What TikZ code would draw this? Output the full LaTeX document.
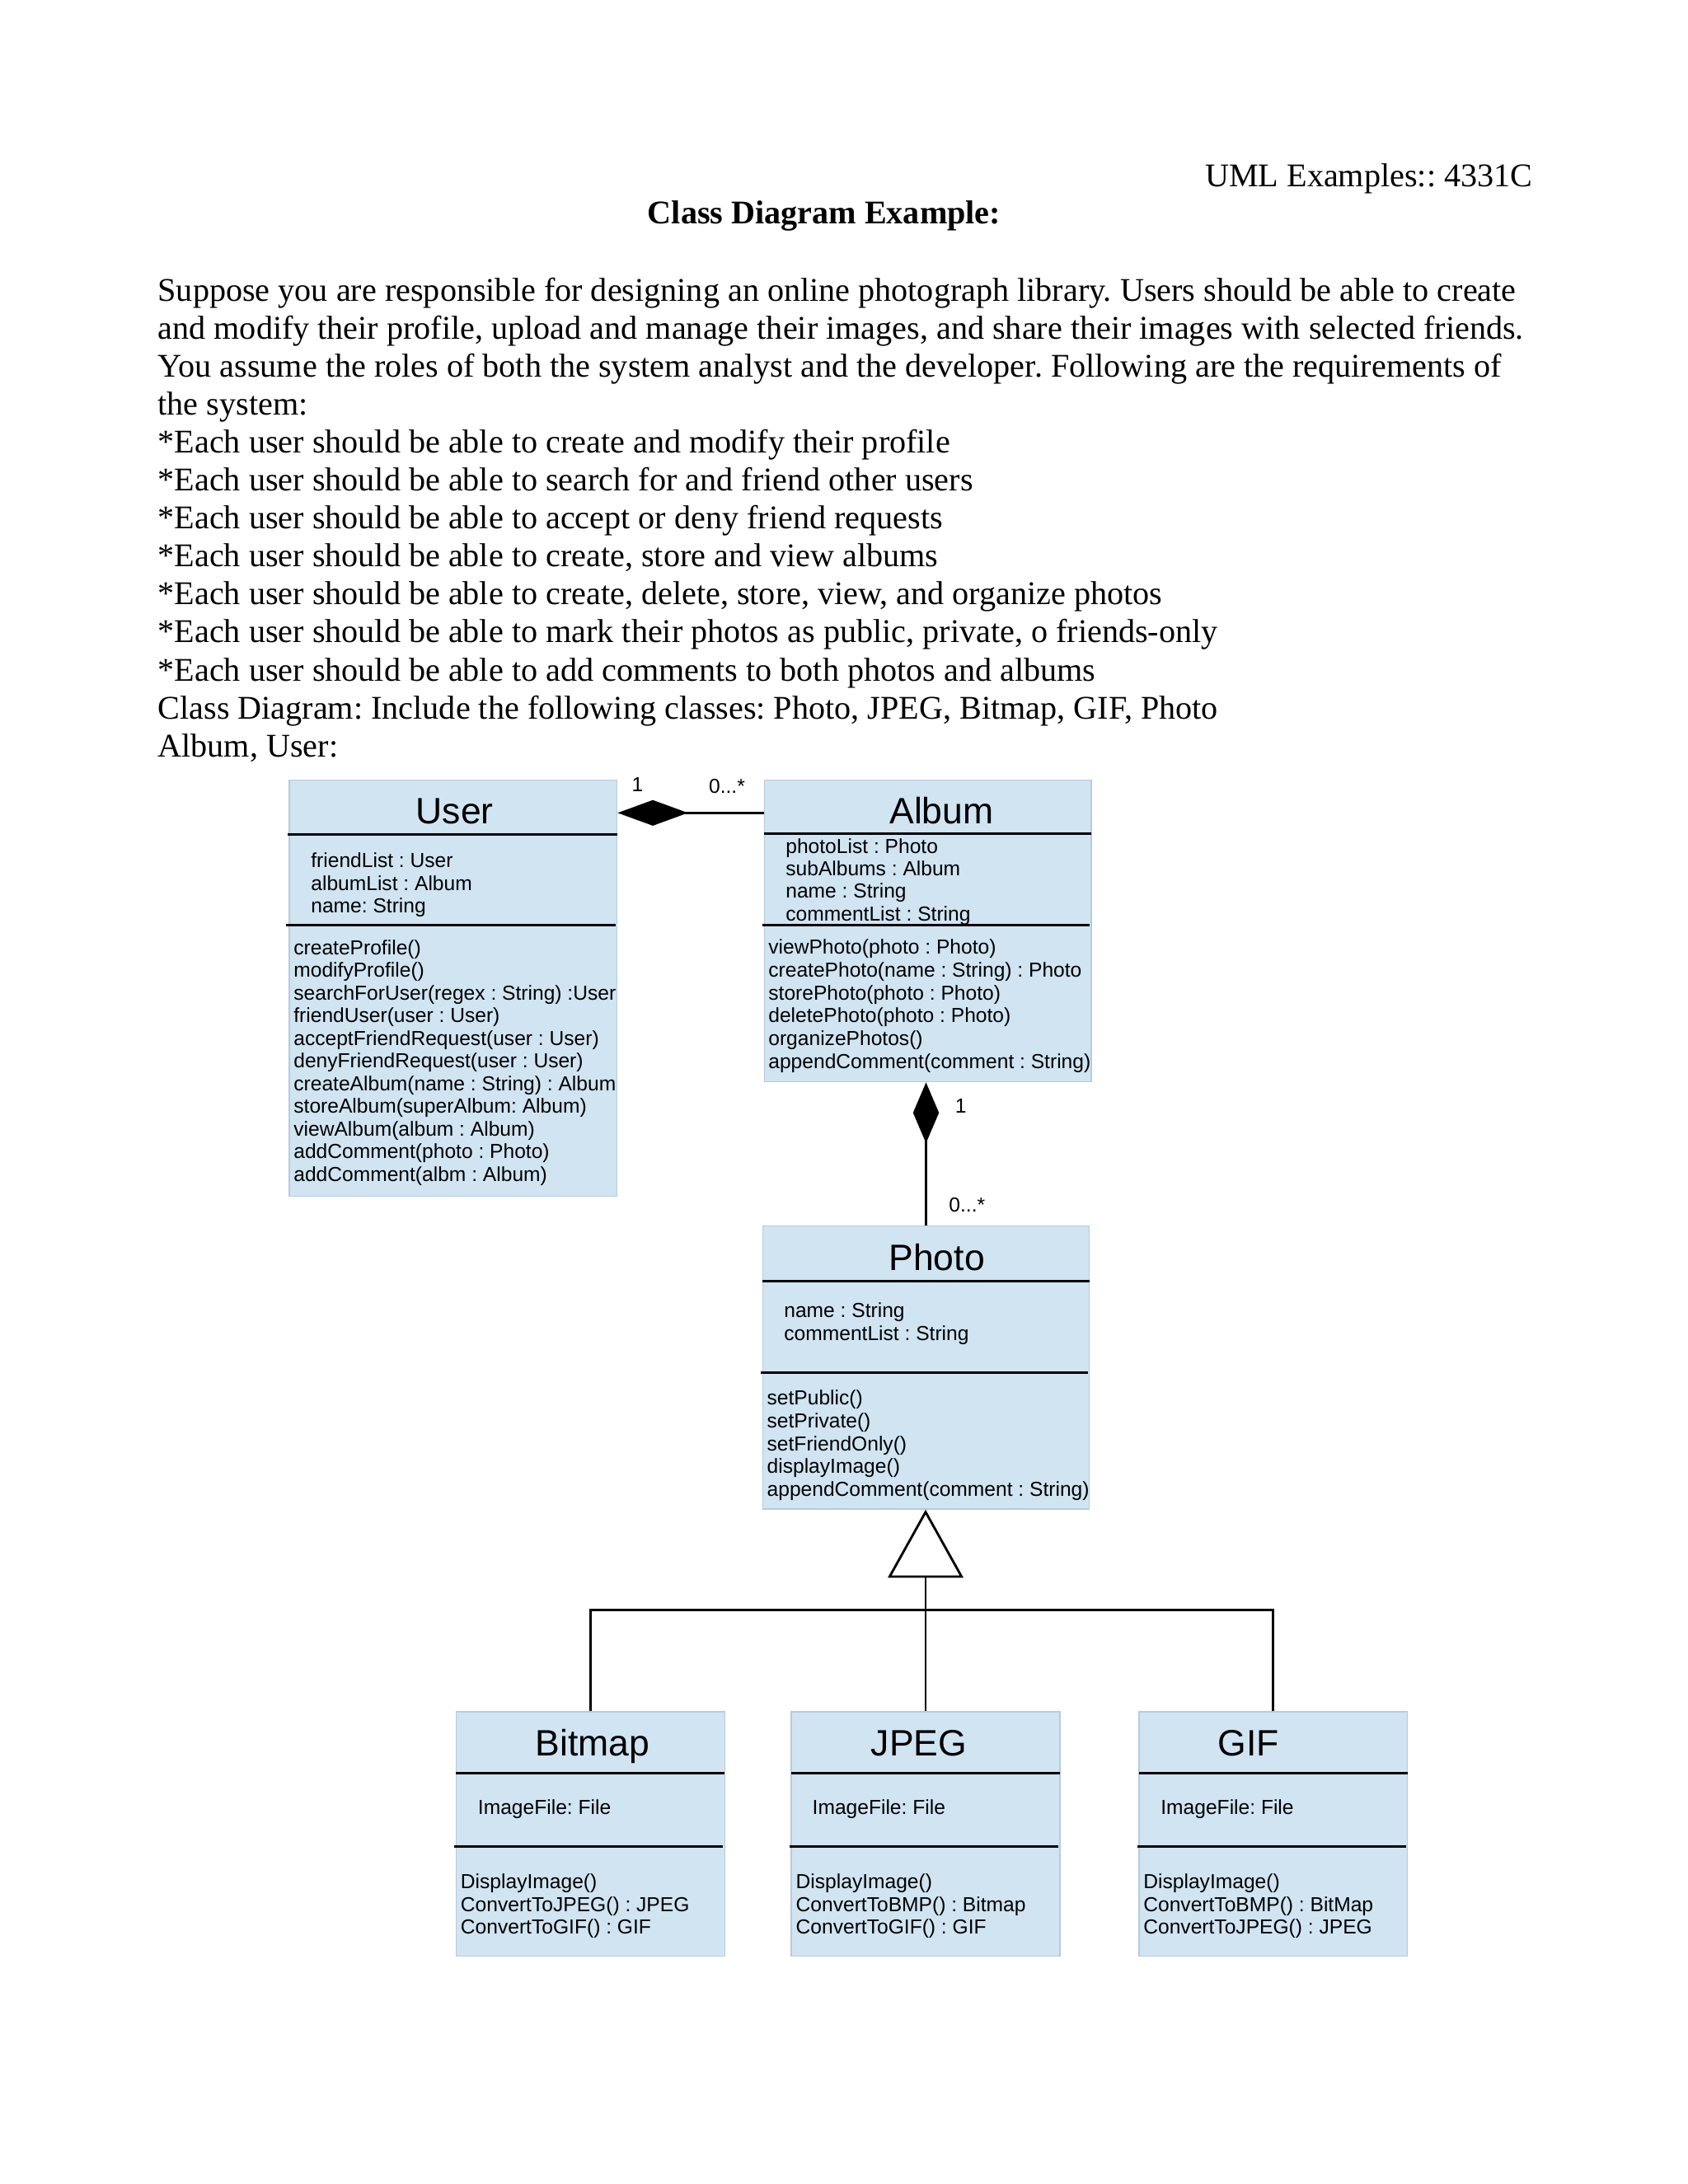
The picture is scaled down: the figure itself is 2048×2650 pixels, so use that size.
\documentclass[tikz,border=0pt]{standalone}
\usepackage{fontspec}
\setmainfont{Liberation Serif}
\newfontfamily\umlsans{Liberation Sans}
\usetikzlibrary{arrows.meta,fit}
\definecolor{clsfill}{RGB}{208,228,242}
\definecolor{clsedge}{RGB}{184,202,220}
\newcommand\umllines[5]{%
  \foreach \lineText [count=\i from 0] in {#5} {\node[mtxt] (#1\i) at (#2,{#3+\i*#4}) {\lineText};}}
\frenchspacing
\begin{document}
\frenchspacing
\begin{tikzpicture}[x=0.29883pt, y=-0.29883pt,
  cls/.style={draw=clsedge, line width=0.4pt, fill=clsfill, inner sep=0pt, rectangle},
  sepline/.style={line width=0.9pt},
  conn/.style={line width=0.85pt},
  mtxt/.style={font=\umlsans\fontsize{7.35}{8.25}\selectfont, inner sep=0pt, anchor=base west},
  ctitle/.style={font=\umlsans\fontsize{13.3}{16}\selectfont, inner sep=0pt, anchor=base},
  mult/.style={font=\umlsans\fontsize{7.35}{8.25}\selectfont, inner sep=0pt, anchor=base},
  bodytxt/.style={font=\fontsize{12}{14}\selectfont, inner sep=0pt, anchor=base west}]
\useasboundingbox (0,0) rectangle (2048,2650);

% ---------- header and text ----------
\node[bodytxt, anchor=base east] (hdr) at (1860,226.7) {UML Examples:: 4331C};
\node[bodytxt, anchor=base, font=\fontsize{12}{14}\selectfont\bfseries] (ttl) at (1000,271.7) {Class Diagram Example:};
\node[bodytxt] (b1) at (191,365) {Suppose you are responsible for designing an online photograph library. Users should be able to create};
\node[bodytxt] (b2) at (191,411.1) {and modify their profile, upload and manage their images, and share their images with selected friends.};
\node[bodytxt] (b3) at (191,457.2) {You assume the roles of both the system analyst and the developer. Following are the requirements of};
\node[bodytxt] (b4) at (191,503.3) {the system:};
\node[bodytxt] (b5) at (191,549.4) {*Each user should be able to create and modify their profile};
\node[bodytxt] (b6) at (191,595.5) {*Each user should be able to search for and friend other users};
\node[bodytxt] (b7) at (191,641.6) {*Each user should be able to accept or deny friend requests};
\node[bodytxt] (b8) at (191,687.7) {*Each user should be able to create, store and view albums};
\node[bodytxt] (b9) at (191,733.8) {*Each user should be able to create, delete, store, view, and organize photos};
\node[bodytxt] (b10) at (191,779.9) {*Each user should be able to mark their photos as public, private, o friends-only};
\node[bodytxt] (b11) at (191,826.0) {*Each user should be able to add comments to both photos and albums};
\node[bodytxt] (b12) at (191,872.1) {Class Diagram: Include the following classes: Photo, JPEG, Bitmap, GIF, Photo};
\node[bodytxt] (b13) at (191,918.2) {Album, User:};

% ---------- User ----------
\node[cls, fit={(351,946.7) (748.7,1451.7)}] (user) {};
\draw[sepline] (349,1012.7) -- (748.7,1012.7);
\draw[sepline] (347,1122.7) -- (747,1122.7);
\node[ctitle] (usert) at (551.7,999.3) {User};
\umllines{ua}{376.7}{1052.7}{27.3}{friendList : User, albumList : Album, name: String}
\umllines{um}{355.7}{1158.3}{27.5}{createProfile(), modifyProfile(), searchForUser(regex : String) :User, friendUser(user : User), acceptFriendRequest(user : User), denyFriendRequest(user : User), createAlbum(name : String) : Album, storeAlbum(superAlbum: Album), viewAlbum(album : Album), addComment(photo : Photo), addComment(albm : Album)}

% ---------- Album ----------
\node[cls, fit={(927.3,946.7) (1324,1312.7)}] (album) {};
\draw[sepline] (927.3,1011.7) -- (1324,1011.7);
\draw[sepline] (925,1122) -- (1322,1122);
\node[ctitle] (albumt) at (1142.5,999.3) {Album};
\umllines{aa}{952.7}{1035}{27.43}{photoList : Photo, subAlbums : Album, name : String, commentList : String}
\umllines{am}{931.7}{1157.7}{27.66}{viewPhoto(photo : Photo), createPhoto(name : String) : Photo, storePhoto(photo : Photo), deletePhoto(photo : Photo), organizePhotos(), appendComment(comment : String)}

% ---------- Photo ----------
\node[cls, fit={(925.3,1487.5) (1321.7,1831)}] (photo) {};
\draw[sepline] (925.3,1554.6) -- (1321.7,1554.6);
\draw[sepline] (923,1665) -- (1320,1665);
\node[ctitle] (photot) at (1136.7,1541) {Photo};
\umllines{pa}{950.7}{1598.7}{27.7}{name : String, commentList : String}
\umllines{pm}{930}{1704.6}{27.7}{setPublic(), setPrivate(), setFriendOnly(), displayImage(), appendComment(comment : String)}

% ---------- Bitmap ----------
\node[cls, fit={(553.3,2077) (879.3,2373.3)}] (bitmap) {};
\draw[sepline] (553.3,2151.7) -- (879.3,2151.7);
\draw[sepline] (551,2240.7) -- (877,2240.7);
\node[ctitle] (bitmapt) at (719,2130) {Bitmap};
\umllines{ba}{579.3}{2201}{27.5}{ImageFile: File}
\umllines{bm}{558.3}{2291.7}{27.5}{DisplayImage(), ConvertToJPEG() : JPEG, ConvertToGIF() : GIF}

% ---------- JPEG ----------
\node[cls, fit={(960,2077) (1286,2373.3)}] (jpeg) {};
\draw[sepline] (960,2151.7) -- (1286,2151.7);
\draw[sepline] (958,2240.7) -- (1284,2240.7);
\node[ctitle] (jpegt) at (1115,2130) {JPEG};
\umllines{ja}{985}{2201}{27.5}{ImageFile: File}
\umllines{jm}{965}{2291.7}{27.5}{DisplayImage(), ConvertToBMP() : Bitmap, ConvertToGIF() : GIF}

% ---------- GIF ----------
\node[cls, fit={(1382,2077) (1707.7,2373.3)}] (gif) {};
\draw[sepline] (1382,2151.7) -- (1707.7,2151.7);
\draw[sepline] (1380,2240.7) -- (1706,2240.7);
\node[ctitle] (gift) at (1515,2130) {GIF};
\umllines{ga}{1407.7}{2201}{27.5}{ImageFile: File}
\umllines{gm}{1386.7}{2291.7}{27.5}{DisplayImage(), ConvertToBMP() : BitMap, ConvertToJPEG() : JPEG}

% ---------- connectors ----------
\draw[conn, -{Diamond[length=25.5pt, width=9.3pt]}] (album.west |- 0,986.3) -- (user.east |- 0,986.3);
\node[mult] (m1) at (773.5,960.7) {1};
\node[mult] (m2) at (882,962.7) {0...*};

\draw[conn, -{Diamond[length=22pt, width=9.4pt]}] (photo.north) -- (photo.north |- album.south);
\node[mult] (m3) at (1165.7,1350) {1};
\node[mult] (m4) at (1173.3,1470) {0...*};

\draw[conn, -{Triangle[open, fill=white, length=24.7pt, width=27.3pt]}] (jpeg.north) -- (jpeg.north |- photo.south);
\coordinate (bus) at (jpeg.north |- 0,1953.3);
\draw[conn] (bitmap.north) |- (bus) -| (gif.north);
\end{tikzpicture}
\end{document}
